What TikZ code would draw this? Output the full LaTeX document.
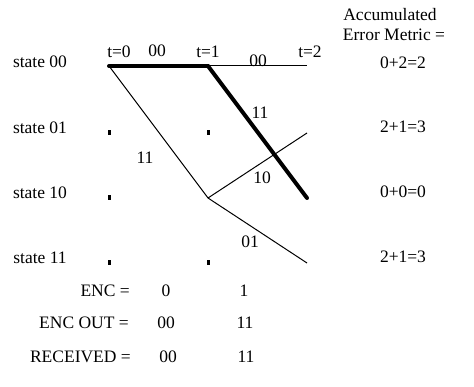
\documentclass[tikz,border=0pt]{standalone}
\usepackage{fontspec}
\setmainfont{Liberation Serif}
\usepackage{tikz}
\usetikzlibrary{calc}

\begin{document}
\begin{tikzpicture}[x=1pt, y=-1pt,
		every node/.style={inner sep=0pt, font=\fontsize{17.5}{20}\selectfont},
		branch/.style={line width=0.35mm},
		survivor/.style={line width=1.4mm},
		stdot/.style={fill=black}]
		%%%%% START %%%%%
		
		\useasboundingbox (0, 0) rectangle (474, 387);
		
		% trellis points
		\coordinate (a0) at (109, 66);
		\coordinate (b0) at (109, 133);
		\coordinate (c0) at (109, 198);
		\coordinate (d0) at (109, 263);
		\coordinate (a1) at (208, 66);
		\coordinate (b1) at (208, 133);
		\coordinate (c1) at (208, 198);
		\coordinate (d1) at (208, 263);
		\coordinate (a2) at (307, 66);
		\coordinate (b2) at (307, 133);
		\coordinate (c2) at (307, 198);
		\coordinate (d2) at (307, 263);
		
		\foreach \p in {b0, c0, d0, b1, d1}
			\fill[stdot] ($(\p)+(-1.5, -2.5)$) rectangle ($(\p)+(1.5, 2.5)$);
		
		\draw[branch] (a1) -- (a2);
		\draw[branch] (a0) -- (c1);
		\draw[branch] (c1) -- (b2);
		\draw[branch] (c1) -- (d2);
		\draw[survivor, line cap=round] (a0) -- (a1) -- (c2);
		
		% branch labels
		\node (l00a) at (157, 51) {00};
		\node (l00b) at (258, 61) {00};
		\node (l11a) at (145, 158) {11};
		\node (l11b) at (260, 113) {11};
		\node (l10) at (262, 178) {10};
		\node (l01) at (250, 242) {01};
		
		\node (t0) at (119, 52) {t=0};
		\node (t1) at (208, 52) {t=1};
		\node (t2) at (310, 52) {t=2};
		
		% states
		\node (s00) at (40, 62) {state 00};
		\node (s01) at (40, 128) {state 01};
		\node (s10) at (40, 193) {state 10};
		\node (s11) at (40, 258) {state 11};
		
		% error metric
		\node (acc) at (390, 15) {Accumulated};
		\node (err) at (394, 35) {Error Metric =};
		\node (m00) at (403, 63) {0+2=2};
		\node (m01) at (403, 127) {2+1=3};
		\node (m10) at (403, 192) {0+0=0};
		\node (m11) at (403, 257) {2+1=3};
		
		% table
		\node[anchor=east] (enc) at (130, 291) {ENC =};
		\node (enc0) at (166, 291) {0};
		\node (enc1) at (244, 291) {1};
		\node[anchor=east] (out) at (129, 323) {ENC OUT =};
		\node (out0) at (166, 323) {00};
		\node (out1) at (245, 323) {11};
		\node[anchor=east] (rec) at (131, 357) {RECEIVED =};
		\node (rec0) at (168, 357) {00};
		\node (rec1) at (246, 357) {11};
		
		%%%%% END %%%%%
	\end{tikzpicture}
\end{document}
